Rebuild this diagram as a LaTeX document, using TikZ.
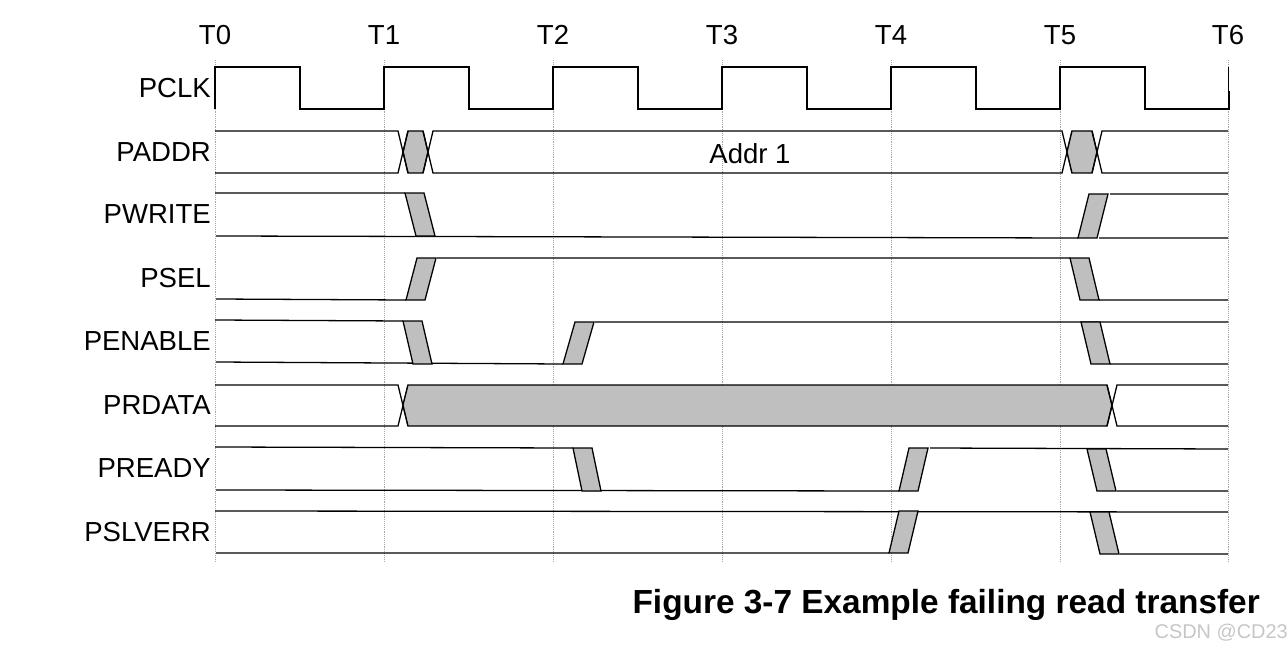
\documentclass[tikz,border=0pt]{standalone}
\usepackage{fontspec}
\setmainfont{Liberation Sans}
\tikzset{
  sig/.style={line width=1.1pt},
  band/.style={sig, fill=black!25},
  grid/.style={densely dotted, gray!70, line width=0.6pt},
  lbl/.style={anchor=east, font=\fontsize{23.5}{26}\selectfont, inner sep=0pt},
  tick/.style={font=\fontsize{23.5}{26}\selectfont, inner sep=0pt}
}
% slanted band: x top, x bottom, y top, y bottom
\newcommand{\slant}[4]{\draw[band] (#1,#3) -- (#1+19,#3) -- (#2+19,#4) -- (#2,#4) -- cycle;}
\begin{document}
\begin{tikzpicture}[x=0.03cm,y=-0.03cm]
        \useasboundingbox (0,0) rectangle (1288,648);
        % time grid
        \foreach \t/\x in {0/215,1/384,2/553,3/722,4/891,5/1060,6/1228} {
          \draw[grid] (\x,60) -- (\x,562);
          \node[tick] (t\t) at (\x,35) {T\t};
        }
        % labels
        \node[lbl] (pclk) at (211,88) {PCLK};
        \node[lbl] (paddr) at (211,152) {PADDR};
        \node[lbl] (pwrite) at (211,214) {PWRITE};
        \node[lbl] (psel) at (211,278) {PSEL};
        \node[lbl] (penable) at (211,341) {PENABLE};
        \node[lbl] (prdata) at (211,405) {PRDATA};
        \node[lbl] (pready) at (211,468) {PREADY};
        \node[lbl] (pslverr) at (211,532) {PSLVERR};
        % PCLK
        \draw[sig] (215,109) -- (215,67)
          \foreach \x in {215,384,553,722,891,1060} { -- (\x,67) -- (\x+85,67) -- (\x+85,109) -- (\x+169,109) -- (\x+169,67) }
          ;
        \fill[white] (1229,60) rectangle (1240,91);
        % PADDR
        \draw[band] (403,152) -- (408,131) -- (423,131) -- (428,152) -- (423,173) -- (408,173) -- cycle;
        \draw[sig] (215,131) -- (398,131) -- (408,173) (215,173) -- (398,173) -- (408,131);
        \draw[sig] (423,131) -- (433,173) -- (1062,173) -- (1072,131) (423,173) -- (433,131) -- (1062,131) -- (1072,173);
        \draw[band] (1067,152) -- (1072,131) -- (1092,131) -- (1097,152) -- (1092,173) -- (1072,173) -- cycle;
        \draw[sig] (1092,131) -- (1102,173) -- (1228,173) (1092,173) -- (1102,131) -- (1228,131);
        \node[tick] (addr) at (750,154) {Addr 1};
        % PWRITE
        \draw[sig] (215,193) -- (405,193) (216,236) -- (1078,238) (1099,238) -- (1228,238) (1110,194) -- (1228,194);
        \slant{405}{416}{193}{236}
        \slant{1089}{1078}{194}{238}
        % PSEL
        \draw[sig] (216,299) -- (406,300) (437,258) -- (1070,258) (1099,300) -- (1228,300);
        \slant{417}{406}{258}{300}
        \slant{1070}{1080}{258}{300}
        % PENABLE
        \draw[sig] (215,320) -- (403,321) (216,362) -- (563,364) (595,322) -- (1228,322) (1110,364) -- (1228,364);
        \slant{403}{413}{321}{364}
        \slant{575}{563}{322}{364}
        \slant{1081}{1091}{322}{364}
        % PRDATA
        \draw[sig] (215,385) -- (398,385) -- (408,426) (215,426) -- (398,426) -- (408,385);
        \draw[band] (403,405) -- (408,385) -- (1107,385) -- (1112,405) -- (1107,426) -- (408,426) -- cycle;
        \draw[sig] (1107,385) -- (1117,426) -- (1228,426) (1107,426) -- (1117,385) -- (1228,385);
        % PREADY
        \draw[sig] (215,447) -- (573,448) (216,490) -- (899,491) (930,448) -- (1228,449) (1117,491) -- (1228,491);
        \slant{573}{582}{448}{491}
        \slant{909}{899}{448}{491}
        \slant{1087}{1097}{449}{491}
        % PSLVERR
        \draw[sig] (215,511) -- (1228,512) (216,553) -- (889,553) (1120,554) -- (1228,554);
        \slant{899}{889}{511}{553}
        \slant{1090}{1100}{512}{554}
        % caption
        \node[anchor=east, inner sep=0pt, font=\fontsize{28.5}{32}\selectfont\bfseries] (cap) at (1260,605) {Figure 3-7 Example failing read transfer};
        \node[anchor=east, inner sep=0pt, text=gray!45, font=\fontsize{17}{20}\selectfont] (wm) at (1288,633) {CSDN @CD23};
\end{tikzpicture}
\end{document}
